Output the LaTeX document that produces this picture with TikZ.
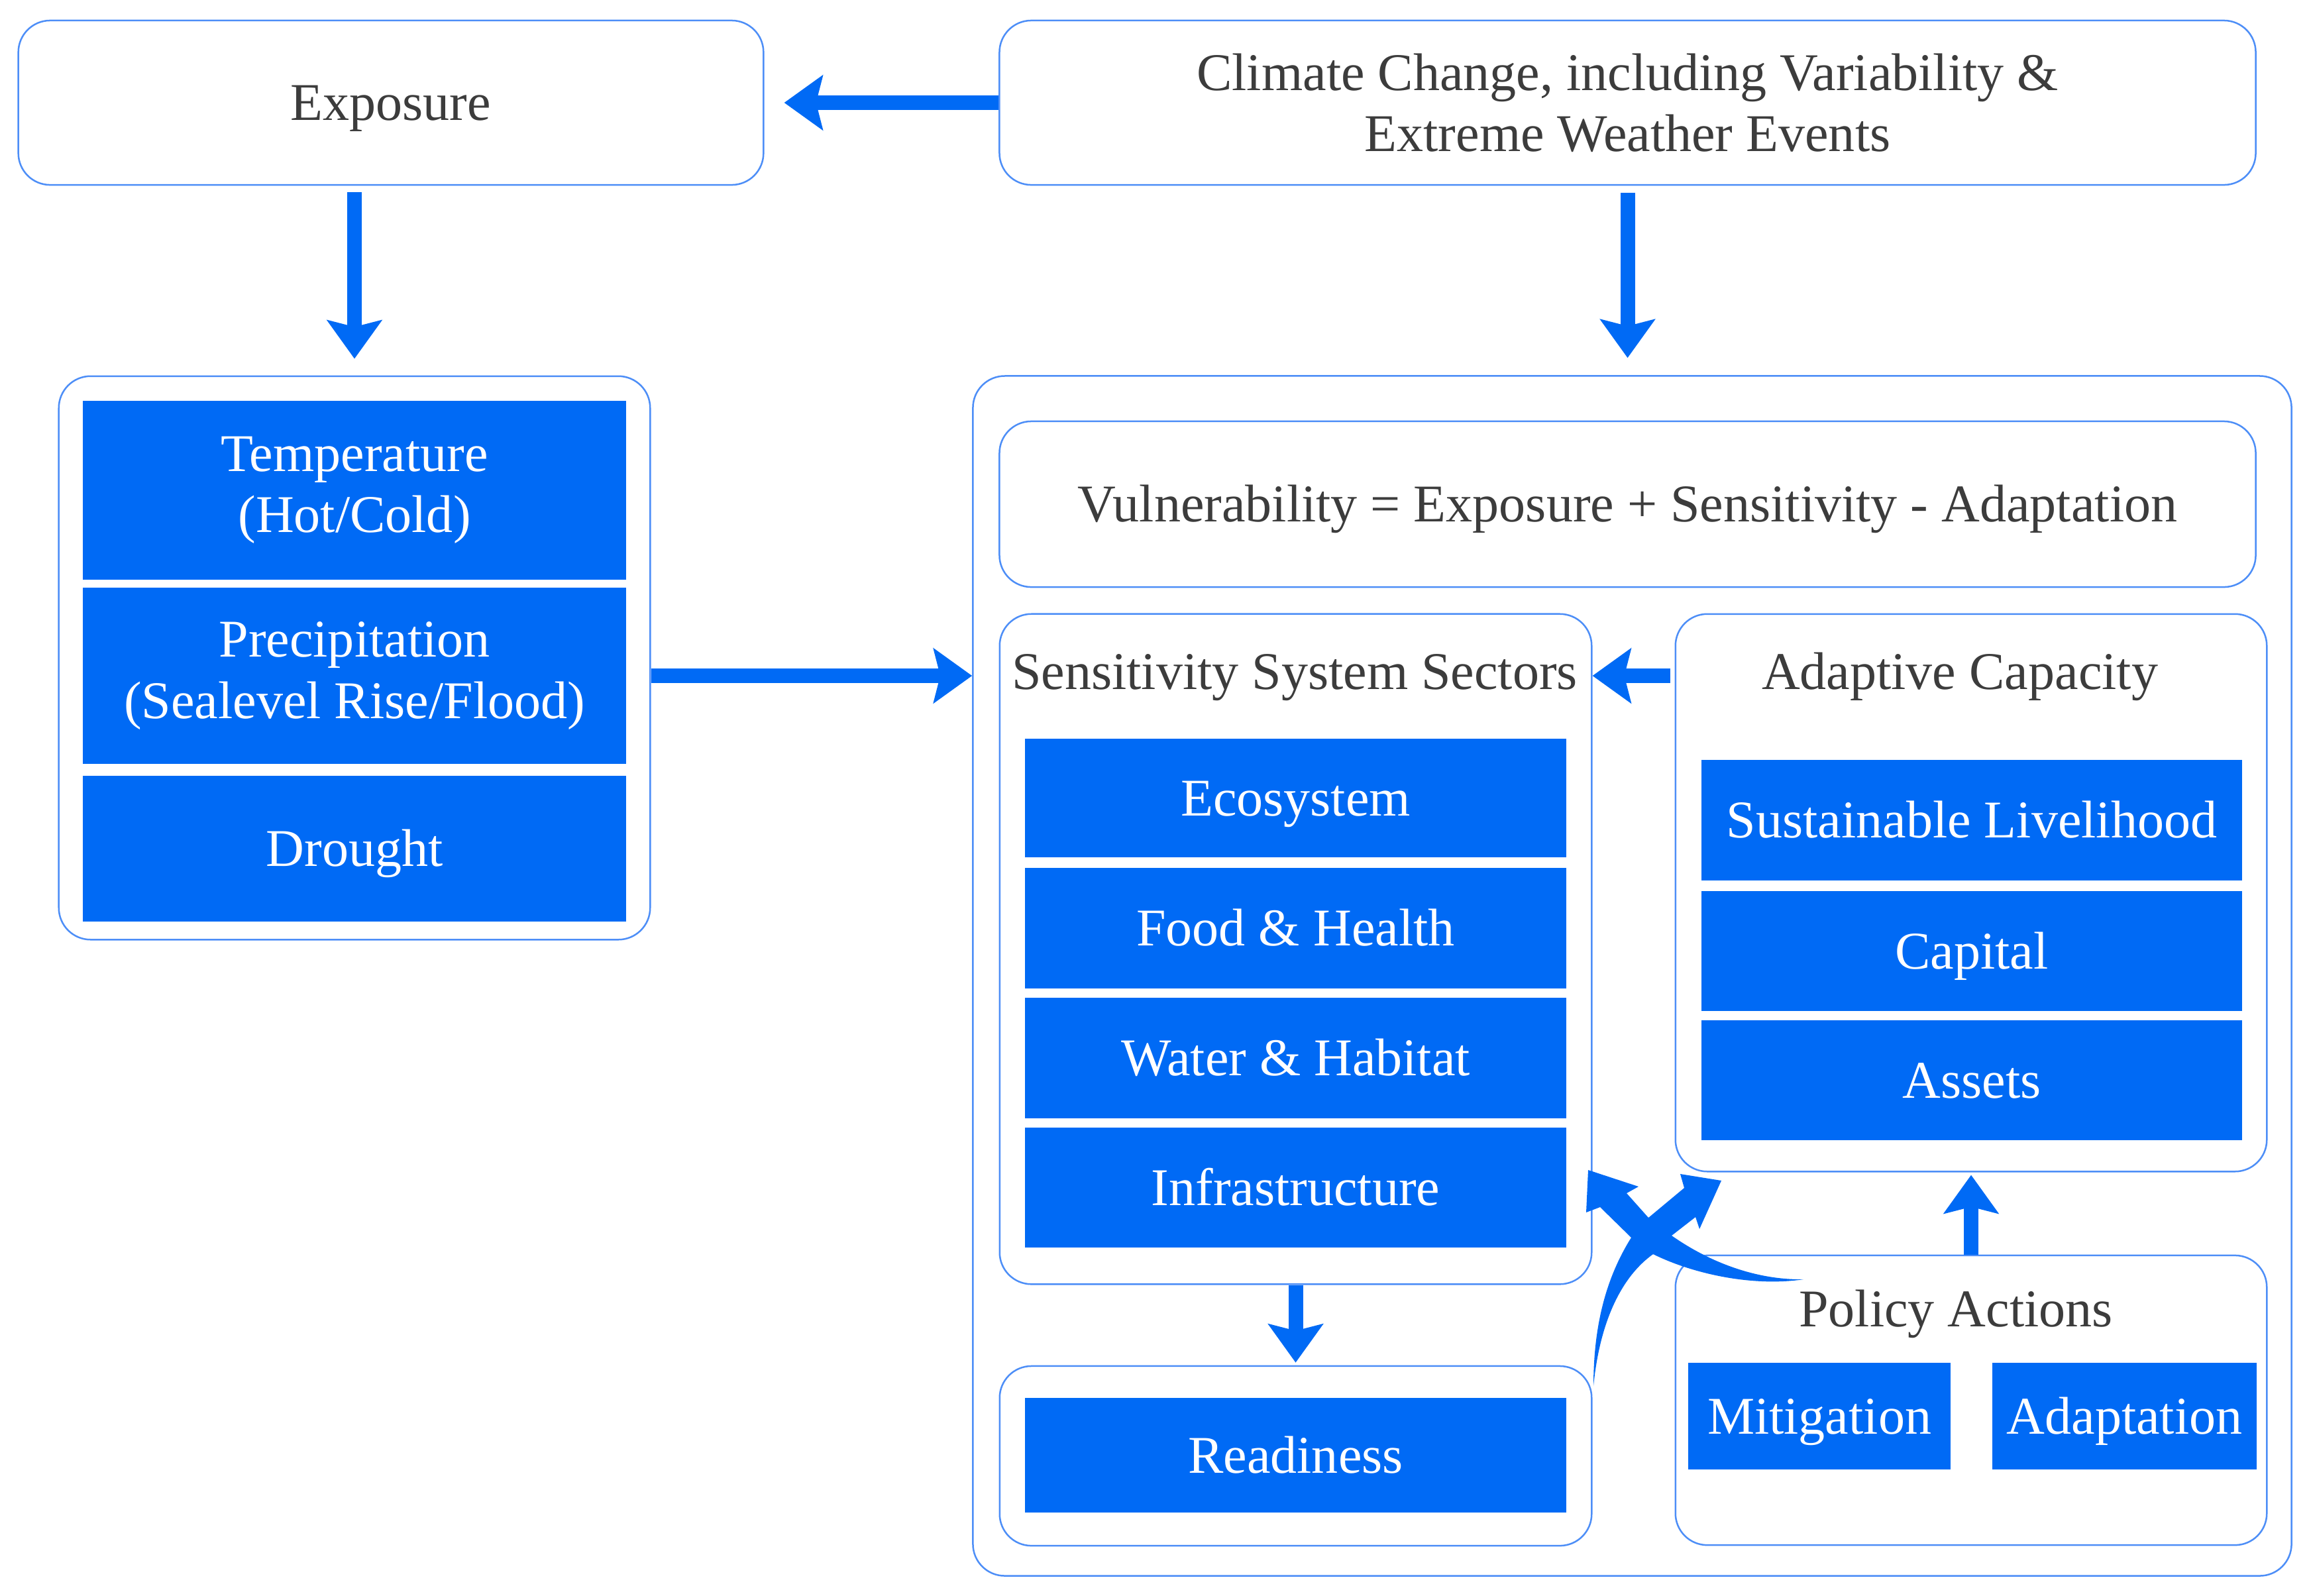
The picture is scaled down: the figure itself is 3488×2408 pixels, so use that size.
\documentclass[tikz,border=0pt]{standalone}
\usepackage{fontspec}
\setmainfont{Liberation Serif}
\usetikzlibrary{arrows.meta,calc}
\definecolor{fillblue}{RGB}{0,106,245}
\definecolor{edgeblue}{RGB}{77,142,247}
\definecolor{txt}{RGB}{60,60,60}
\newcommand\dfont{\fontsize{22.76pt}{26.2pt}\selectfont}
\begin{document}
\begin{tikzpicture}[x=0.01cm,y=-0.01cm,
  wbox/.style={draw=edgeblue, line width=0.025cm, rounded corners=0.48cm, fill=white, inner sep=0pt, text=txt, font=\dfont, align=center},
  bbox/.style={fill=fillblue, inner sep=0pt, text=white, font=\dfont, align=center},
  oneline/.style={text height=0.7cm, text depth=0.17cm},
  ttl/.style={inner sep=0pt, text=txt, font=\dfont},
  arr/.style={draw=fillblue, line width=0.22cm, -{Stealth[length=0.58cm,width=0.82cm,inset=0.1cm]}},
  curvearr/.style={fill=fillblue, draw=none}
]
\useasboundingbox (0,0) rectangle (3488,2408);

% top row
\node[wbox, oneline, minimum width=11.24cm, minimum height=2.48cm] (expo) at (590,155) {Exposure};
\node[wbox, minimum width=18.95cm, minimum height=2.48cm] (clim) at (2456.5,155) {Climate Change, including Variability \&\\Extreme Weather Events};

% left exposure group
\node[wbox, minimum width=8.92cm, minimum height=8.50cm] (lbox) at (535,993) {};
\node[bbox, minimum width=8.20cm, minimum height=2.70cm] (temp) at (535,740) {Temperature\\(Hot/Cold)};
\node[bbox, minimum width=8.20cm, minimum height=2.66cm] (prec) at (535,1020) {Precipitation\\(Sealevel Rise/Flood)};
\node[bbox, oneline, minimum width=8.20cm, minimum height=2.20cm] (drou) at (535,1281) {Drought};

% right vulnerability group
\node[wbox, minimum width=19.89cm, minimum height=18.10cm] (outer) at (2463.5,1473) {};
\node[wbox, oneline, minimum width=18.95cm, minimum height=2.50cm] (vuln) at (2456.5,761) {Vulnerability = Exposure + Sensitivity - Adaptation};

\node[wbox, minimum width=8.93cm, minimum height=10.11cm] (sens) at (1955.5,1432.5) {};
\node[ttl, anchor=base] (senst) at (1954,1040) {Sensitivity System Sectors};
\node[bbox, oneline, minimum width=8.17cm, minimum height=1.79cm] (eco) at (1955.5,1204.5) {Ecosystem};
\node[bbox, oneline, minimum width=8.17cm, minimum height=1.82cm] (food) at (1955.5,1401) {Food \& Health};
\node[bbox, oneline, minimum width=8.17cm, minimum height=1.82cm] (water) at (1955.5,1597) {Water \& Habitat};
\node[bbox, oneline, minimum width=8.17cm, minimum height=1.81cm] (infra) at (1955.5,1792.5) {Infrastructure};

\node[wbox, minimum width=8.92cm, minimum height=8.41cm] (adap) at (2975,1347.5) {};
\node[ttl, anchor=base] (adapt) at (2958,1040) {Adaptive Capacity};
\node[bbox, oneline, minimum width=8.16cm, minimum height=1.82cm] (sust) at (2976,1238) {Sustainable Livelihood};
\node[bbox, oneline, minimum width=8.16cm, minimum height=1.81cm] (capi) at (2976,1435.5) {Capital};
\node[bbox, oneline, minimum width=8.16cm, minimum height=1.81cm] (asse) at (2976,1630.5) {Assets};

\node[wbox, minimum width=8.93cm, minimum height=2.71cm] (rdy) at (1955.5,2197.5) {};
\node[bbox, oneline, minimum width=8.17cm, minimum height=1.73cm] (rdyb) at (1955.5,2196.5) {Readiness};

\node[wbox, minimum width=8.92cm, minimum height=4.37cm] (pol) at (2975,2113.5) {};
\node[ttl, anchor=base] (polt) at (2952,2002) {Policy Actions};
\node[bbox, oneline, minimum width=3.96cm, minimum height=1.61cm] (miti) at (2746,2137.5) {Mitigation};
\node[bbox, oneline, minimum width=3.99cm, minimum height=1.61cm] (adpt) at (3206.5,2137.5) {Adaptation};

% straight arrows
\coordinate (ttly) at (0,1020);
\draw[arr, shorten >=0.3cm] (clim.west) -- (expo.east);
\draw[arr, shorten <=0.1cm, shorten >=0.25cm] (expo.south -| lbox.north) -- (lbox.north);
\draw[arr, shorten <=0.11cm, shorten >=0.26cm] (clim.south) -- (clim.south |- outer.north);
\draw[arr] (lbox.east |- prec.center) -- (outer.west |- prec.center);
\draw[arr, shorten <=0.07cm] (adap.west |- ttly) -- (sens.east |- ttly);
\draw[arr, shorten >=0.04cm] (sens.south) -- (rdy.north);
\draw[arr, shorten >=0.04cm] (pol.north) -- (adap.south);

% curved arrows (policy -> sensitivity, readiness -> adaptive capacity)
\coordinate (aTip) at (2397,1766);
\coordinate (aTail) at (2722,1931);
\coordinate (bTip) at (2598,1782);
\coordinate (bTail) at (2405,2092);
\fill[curvearr] (aTip) -- (2473,1791) -- (2455,1801) -- (2488,1838) -- (2523,1865)
  .. controls (2580,1905) and (2650,1932) .. (aTail)
  .. controls (2650,1942) and (2560,1925) .. (2495,1893)
  -- (2462,1868) -- (2415,1822) -- (2394,1830) -- cycle;
\fill[curvearr] (bTip) -- (2565,1855) -- (2559,1837) -- (2523,1865) -- (2495,1893)
  .. controls (2450,1925) and (2415,1990) .. (bTail)
  .. controls (2405,2010) and (2420,1935) .. (2462,1868)
  -- (2488,1838) -- (2542,1793) -- (2536,1772) -- cycle;
\end{tikzpicture}
\end{document}
